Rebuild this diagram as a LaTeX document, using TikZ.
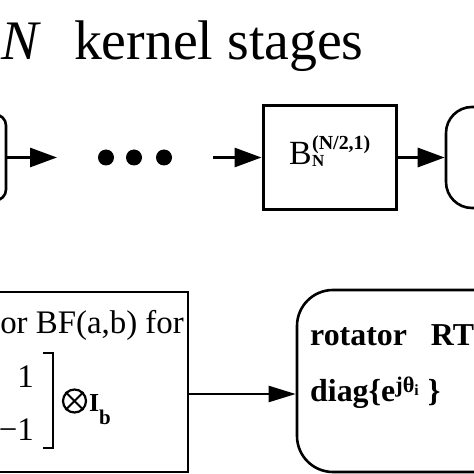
\documentclass[tikz,border=0pt]{standalone}
\usepackage{fontspec}
\setmainfont{Liberation Serif}
\usetikzlibrary{arrows.meta}
\begin{document}
\begin{tikzpicture}[x=1bp,y=-1bp,
  box/.style={draw, line width=2.6bp, inner sep=0pt},
  conn/.style={line width=3bp, -{Triangle[length=27bp,width=19bp]}},
  conntwo/.style={line width=2.2bp, -{Triangle[length=27bp,width=16bp]}},
  dotnode/.style={circle, fill, inner sep=0pt, minimum size=16bp},
  txt/.style={inner sep=0pt, font=\fontsize{33}{36}\selectfont}]
\useasboundingbox (0,0) rectangle (474,474);
% title
\node[anchor=base west, inner sep=0pt, font=\fontsize{56}{60}\selectfont] (title) at (1,60) {\textit{N}\hspace{33bp}kernel stages};
% row 1
\node[box, rounded corners=11bp, minimum width=46bp, minimum height=86bp] (L1) at (-17,157.5) {};
\coordinate (d1) at (57,157.5);
\node[dotnode] (p1) at (106,157.5) {};
\node[dotnode] (p2) at (134,157.5) {};
\node[dotnode] (p3) at (164,157.5) {};
\coordinate (d2) at (213,157.5);
\node[box, line width=3bp, minimum width=133bp, minimum height=104bp] (B) at (329.5,157.5) {};
\node[anchor=base west, inner sep=0pt, font=\fontsize{34}{36}\selectfont] (bl) at (289,165) {B};
\node[anchor=base west, inner sep=0pt, font=\bfseries\fontsize{20}{22}\selectfont] (bsup) at (312,150) {(N/2,1)};
\node[anchor=base west, inner sep=0pt, font=\bfseries\fontsize{17}{18}\selectfont] (bsub) at (312,167) {N};
\node[box, rounded corners=26bp, minimum width=94bp, minimum height=101bp] (R1) at (493,157.5) {};
\draw[conn] (L1) -- (d1);
\draw[conn] (d2) -- (B);
\draw[conn] (B) -- (R1);
% row 2
\node[box, line width=2.2bp, minimum width=248bp, minimum height=180bp] (L2) at (64,382) {};
\node[txt, anchor=base east] (t1) at (184,333) {or BF(a,b) for};
\node[txt, anchor=base east] (m1) at (34,387) {1};
\node[txt, anchor=base east] (m2) at (34,440) {−1};
\draw[line width=2.2bp] (43,353) -- (53,353) -- (53,448) -- (43,448);
\node[circle, draw, line width=2.2bp, minimum size=23bp, inner sep=0pt] (ot) at (74.5,401) {};
\draw[line width=2bp] (ot.45) -- (ot.225) (ot.135) -- (ot.315);
\node[anchor=base west, inner sep=0pt, font=\bfseries\fontsize{26}{28}\selectfont] (ib) at (89,411) {I};
\node[anchor=base west, inner sep=0pt, font=\bfseries\fontsize{21}{22}\selectfont] (ibs) at (99,424) {b};
\node[box, rounded corners=36bp, minimum width=283bp, minimum height=182bp] (R2) at (438.5,381) {};
\node[txt, anchor=base west, font=\bfseries\fontsize{32}{36}\selectfont] (rot) at (310,345) {rotator\hspace{24bp}RT};
\node[txt, anchor=base west, font=\bfseries\fontsize{32}{36}\selectfont] (dg) at (310,401) {diag\{e\textsuperscript{jθ\textsubscript{i}}\hspace{8bp}\}};
\draw[conntwo] (L2.east |- 0,394) -- (R2.west |- 0,394);
\end{tikzpicture}
\end{document}
